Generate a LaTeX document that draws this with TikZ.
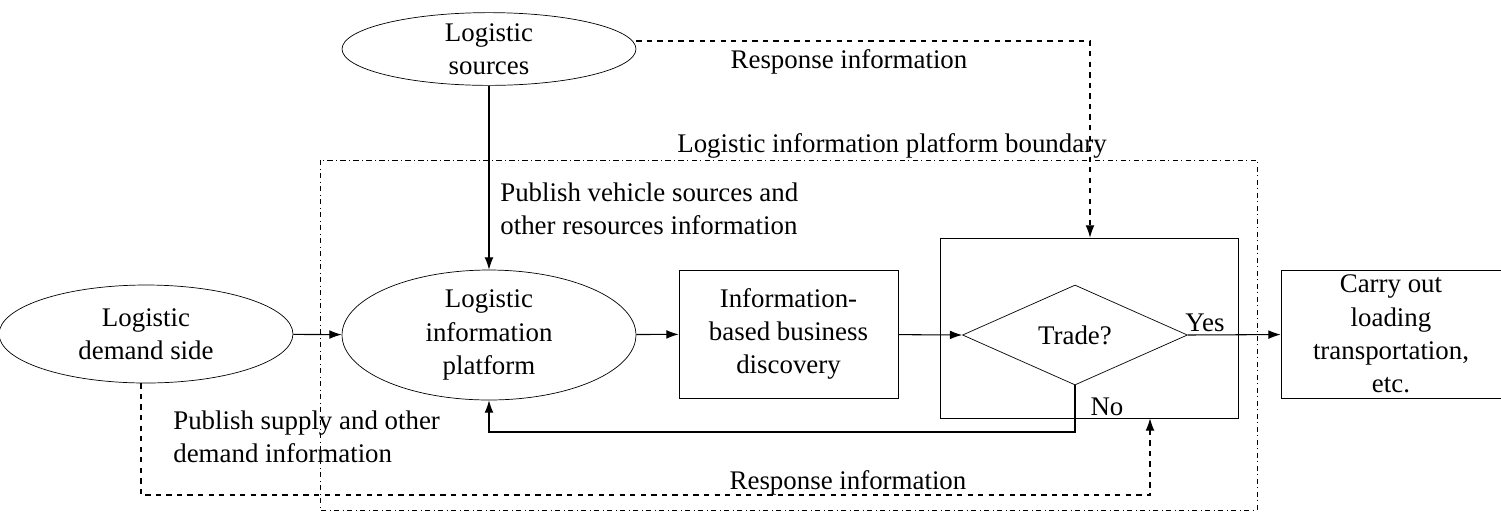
\documentclass[tikz,border=0pt]{standalone}
\usepackage{fontspec}
\setmainfont{Liberation Serif}
\usetikzlibrary{shapes.geometric,arrows.meta}
\begin{document}
\begin{tikzpicture}[x=0.02cm,y=-0.02cm,
  every node/.style={font=\fontsize{15.3}{19}\selectfont},
  ell/.style={draw,ellipse,align=center,inner sep=0pt},
  box/.style={draw,rectangle,align=center,inner sep=0pt},
  arr/.style={-{Latex[length=7pt,width=5pt]},line width=0.6pt},
  dasharr/.style={arr,dashed},
  lbl/.style={inner sep=0pt}]
\useasboundingbox (0,0) rectangle (1501,512);
\node[ell,minimum width=5.88cm,minimum height=1.36cm] (src) at (489,49) {Logistic\\sources};
\node[ell,minimum width=5.88cm,minimum height=1.96cm] (dem) at (146,334) {Logistic\\demand side};
\node[ell,minimum width=5.88cm,minimum height=2.6cm] (plat) at (489,335) {Logistic\\information\\platform};
\node[box,minimum width=4.38cm,minimum height=2.56cm] (disc) at (788.5,334) {Information-\\based business\\discovery};
\node[box,minimum width=5.96cm,minimum height=3.6cm] (big) at (1089,328) {};
\node[draw,diamond,aspect=2.25,minimum width=4.5cm,minimum height=2cm,inner sep=0pt] (trade) at (1075,335) {Trade?};
\node[box,minimum width=4.4cm,minimum height=2.56cm] (carry) at (1391,334) {Carry out\\loading\\transportation,\\etc.};
\draw[dash dot,line width=0.5pt] (320,160) rectangle (1257,510);
\node[lbl] (bnd) at (892,146) {Logistic information platform boundary};
\node[lbl] (r1) at (849,62) {Response information};
\node[lbl] (r2) at (848,483) {Response information};
\node[lbl,align=left,anchor=west] (pv) at (500,209) {Publish vehicle sources and\\other resources information};
\node[lbl,align=left,anchor=west] (ps) at (173,437) {Publish supply and other\\demand information};
\node[lbl] (yes) at (1205,323) {Yes};
\node[lbl] (no) at (1107,407) {No};
\coordinate (c1) at (1090,41);
\coordinate (c2) at (141,495);
\coordinate (c3) at (1150,495);
\coordinate (n1) at (1075,432);
\coordinate (n2) at (489,432);
\draw[arr] (src) -- (plat);
\draw[arr] (dem) -- (plat);
\draw[arr] (plat) -- (disc);
\draw[arr] (disc) -- (trade.west);
\draw[arr] (trade.east) -- (carry);
\draw[arr] (trade.south) -- (n1) -- (n2) -- (plat.south);
\draw[dasharr] (src.east |- c1) -- (c1) -- (c1 |- big.north);
\draw[dasharr] (c2 |- dem.south) -- (c2) -- (c3) -- (c3 |- big.south);
\end{tikzpicture}
\end{document}
